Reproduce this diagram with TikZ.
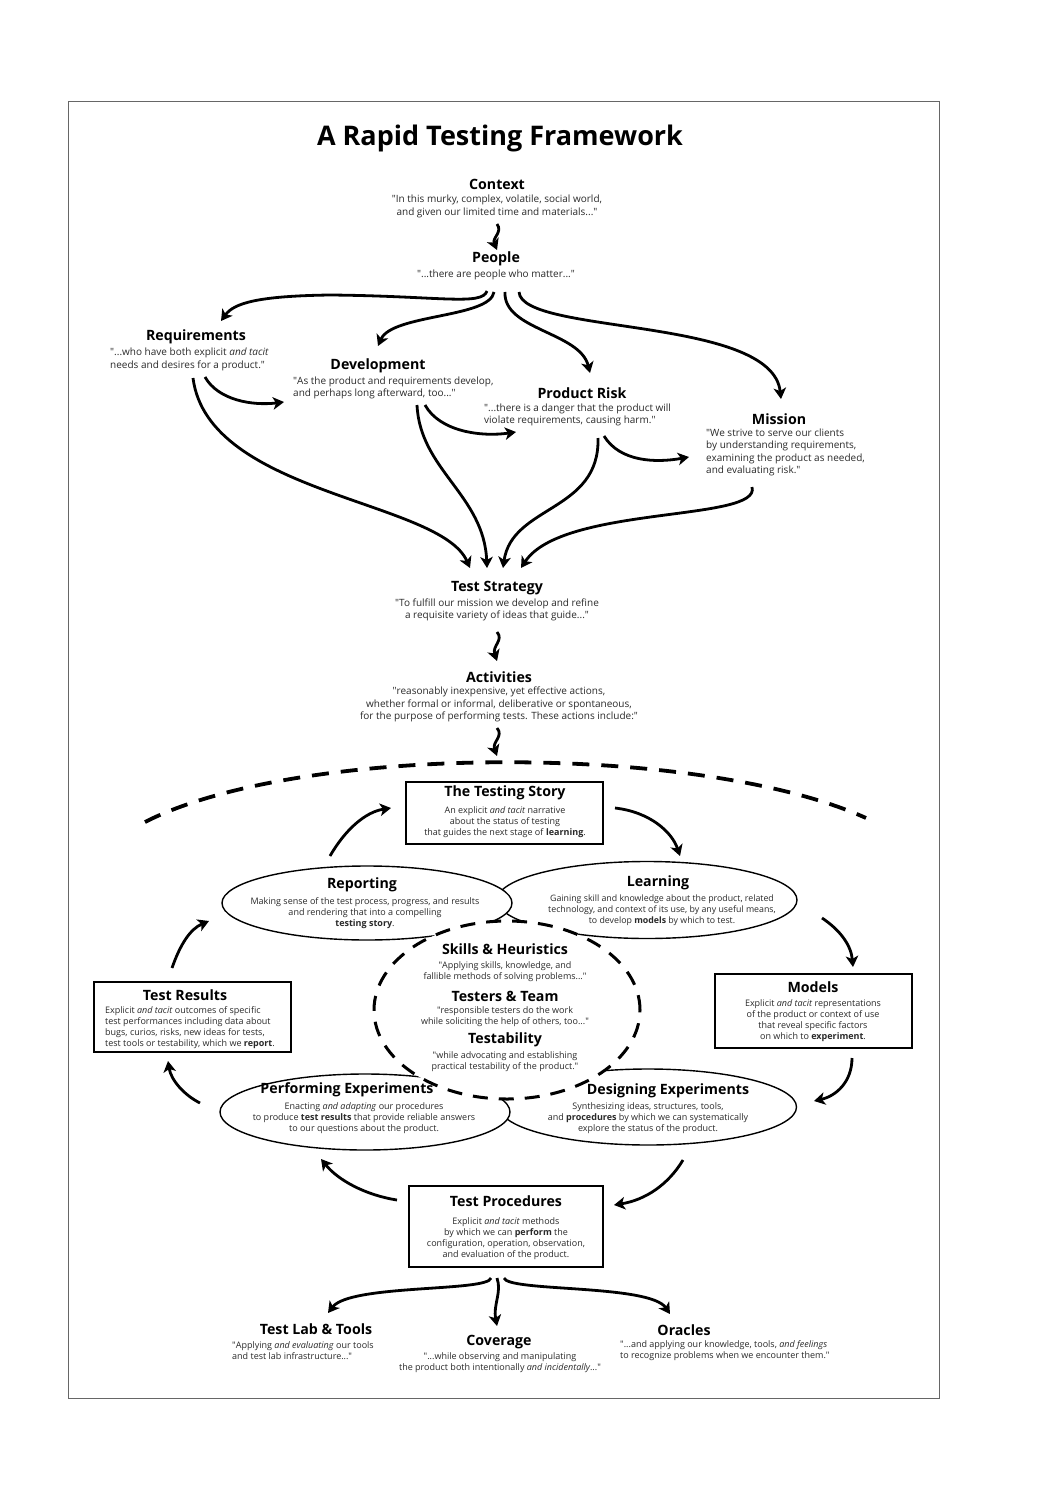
\documentclass[tikz,border=0pt]{standalone}
\usepackage{fontspec}
\setmainfont{Open Sans}
\usetikzlibrary{arrows.meta,shapes.geometric,calc}
\definecolor{txt}{HTML}{2A2A2A}
\definecolor{frm}{HTML}{666666}
\newcommand{\dq}{\textquotedbl}
\begin{document}
\begin{tikzpicture}[x=1pt,y=-1pt,
 hd/.style={font=\fontsize{14.2}{16}\selectfont\bfseries,text=black,inner sep=0pt},
 bhd/.style={font=\fontsize{14.2}{16}\selectfont\bfseries,text=black,inner sep=0pt},
 qt/.style={font=\fontsize{10}{12.5}\selectfont,text=txt,align=center,inner sep=0pt},
 qtl/.style={qt,align=left,anchor=west},
 sm/.style={font=\fontsize{9}{11}\selectfont,text=txt,align=center,inner sep=0pt},
 sml/.style={sm,align=left,anchor=west},
 arr/.style={line width=2.8pt,-{Stealth[length=11pt,width=12.5pt,inset=3pt]}},
 box/.style={draw,line width=1.8pt,fill=white,inner sep=0pt},
 ell/.style={draw,ellipse,line width=1.4pt,fill=white,inner sep=0pt},
 dash ell/.style={draw,ellipse,line width=3pt,dash pattern=on 15pt off 11pt,fill=white,inner sep=0pt},
]
\useasboundingbox (0,0) rectangle (1053,1503);
\fill[white] (0,0) rectangle (1053,1503);
\node[draw=frm,line width=1pt,minimum width=871pt,minimum height=1296pt,inner sep=0pt] (frame) at (503.5,750) {};

\node[font=\fontsize{27}{32}\selectfont\bfseries,inner sep=0pt] (title) at (500,138) {A Rapid Testing Framework};

% upper part
\node[hd] (ctx) at (497,184) {Context};
\node[qt] (ctxq) at (497,206.5) {\dq{}In this murky, complex, volatile, social world,\\and given our limited time and materials...\dq};
\node[hd] (ppl) at (496,259) {People};
\node[qt] (pplq) at (496,275) {\dq{}...there are people who matter...\dq};
\node[hd] (req) at (196,337) {Requirements};
\node[qtl] (reqq) at (110,359.5) {\dq{}...who have both explicit \emph{and tacit}\\needs and desires for a product.\dq};
\node[hd] (dev) at (378,366) {Development};
\node[qtl] (devq) at (293,388) {\dq{}As the product and requirements develop,\\and perhaps long afterward, too...\dq};
\node[hd] (pr) at (582,393) {Product Risk};
\node[qtl] (prq) at (484,415) {\dq{}...there is a danger that the product will\\violate requirements, causing harm.\dq};
\node[hd] (mis) at (779,419) {Mission};
\node[qtl] (misq) at (706,452.5) {\dq{}We strive to serve our clients\\by understanding requirements,\\examining the product as needed,\\and evaluating risk.\dq};
\node[hd] (ts) at (497,588) {Test Strategy};
\node[qt] (tsq) at (497,610) {\dq{}To fulfill our mission we develop and refine\\a requisite variety of ideas that guide...\dq};
\node[hd] (act) at (499,677) {Activities};
\node[qt] (actq) at (499,704.5) {\dq{}reasonably inexpensive, yet effective actions,\\whether formal or informal, deliberative or spontaneous,\\for the purpose of performing tests. These actions include:\dq};

% arrow end points
\coordinate (c1s) at (497,224);  \coordinate (c1e) at (497,250);
\coordinate (c2s) at (487,291);  \coordinate (c2e) at (221,321);
\coordinate (c3s) at (494,292);  \coordinate (c3e) at (378,346);
\coordinate (c4s) at (505,292);  \coordinate (c4e) at (590,373);
\coordinate (c5s) at (519,292);  \coordinate (c5e) at (781,399);
\coordinate (c6s) at (205,377);  \coordinate (c6e) at (284,402);
\coordinate (c7s) at (193,378);  \coordinate (c7e) at (470,568);
\coordinate (c8s) at (425,405);  \coordinate (c8e) at (516,432);
\coordinate (c9s) at (417,405);  \coordinate (c9e) at (487,568);
\coordinate (c10s) at (604,436); \coordinate (c10e) at (689,457);
\coordinate (c11s) at (598,438); \coordinate (c11e) at (503,568);
\coordinate (c12s) at (752,487); \coordinate (c12e) at (521,568);
\coordinate (c13s) at (497,632); \coordinate (c13e) at (497,661);
\coordinate (c14s) at (497,728); \coordinate (arcmid) at (497,756);

% arrows upper
\draw[arr] (c1s) .. controls (503,232) and (492,238) .. (c1e);
\draw[arr] (c2s) .. controls (482,306) and (440,296) .. (330,295) .. controls (258,296) and (234,303) .. (c2e);
\draw[arr] (c3s) .. controls (490,318) and (392,314) .. (c3e);
\draw[arr] (c4s) .. controls (503,330) and (580,332) .. (c4e);
\draw[arr] (c5s) .. controls (522,335) and (772,316) .. (c5e);
\draw[arr] (c6s) .. controls (218,400) and (252,406) .. (c6e);
\draw[arr] (c7s) .. controls (208,495) and (440,500) .. (c7e);
\draw[arr] (c8s) .. controls (440,432) and (482,437) .. (c8e);
\draw[arr] (c9s) .. controls (420,470) and (484,495) .. (c9e);
\draw[arr] (c10s) .. controls (620,462) and (656,463) .. (c10e);
\draw[arr] (c11s) .. controls (600,512) and (512,505) .. (c11e);
\draw[arr] (c12s) .. controls (762,522) and (562,505) .. (c12e);
\draw[arr] (c13s) .. controls (504,640) and (492,646) .. (c13e);
\draw[arr] (c14s) .. controls (504,736) and (492,742) .. (arcmid);

% dashed arc
\coordinate (arcL) at (145,822);
\coordinate (arcR) at (866,818);
\draw[line width=3.8pt,dash pattern=on 17pt off 12pt] (arcL) .. controls (300,743) and (700,743) .. (arcR);

% cycle shapes
\node[ell,minimum width=300pt,minimum height=77pt] (lrn) at (647,900) {};
\node[ell,minimum width=290pt,minimum height=74pt] (rep) at (367,903) {};
\node[ell,minimum width=297pt,minimum height=76pt] (des) at (648,1107) {};
\node[ell,minimum width=290pt,minimum height=76pt] (per) at (365,1112) {};
\node[dash ell,minimum width=266pt,minimum height=178pt] (core) at (507,1010) {};

\node[box,minimum width=197pt,minimum height=62pt] (story) at (504.5,813) {};
\node[box,minimum width=197pt,minimum height=70pt] (tr) at (192.5,1017) {};
\node[box,minimum width=197pt,minimum height=74pt] (mod) at (813.5,1011) {};
\node[box,minimum width=194pt,minimum height=81pt] (tp) at (506,1226.5) {};

% cycle texts
\node[bhd] (storyh) at (505,793) {The Testing Story};
\node[sm] (storyq) at (505,822.5) {An explicit \emph{and tacit} narrative\\about the status of testing\\that guides the next stage of \textbf{learning}.};
\node[bhd] (reph) at (362,885) {Reporting};
\node[sm] (repq) at (365,913) {Making sense of the test process, progress, and results\\and rendering that into a compelling\\\textbf{testing story}.};
\node[bhd] (lrnh) at (658,883) {Learning};
\node[sm,font=\fontsize{8.8}{11}\selectfont] (lrnq) at (662,910.5) {Gaining skill and knowledge about the product, related\\technology, and context of its use, by any useful means,\\to develop \textbf{models} by which to test.};
\node[bhd] (trh) at (185,995) {Test Results};
\node[sml] (trq) at (105,1028) {Explicit \emph{and tacit} outcomes of specific\\test performances including data about\\bugs, curios, risks, new ideas for tests,\\test tools or testability, which we \textbf{report}.};
\node[bhd] (modh) at (813,987) {Models};
\node[sm] (modq) at (813,1021) {Explicit \emph{and tacit} representations\\of the product or context of use\\that reveal specific factors\\on which to \textbf{experiment}.};
\node[bhd] (skh) at (505,949) {Skills \& Heuristics};
\node[sm] (skq) at (505,971.5) {\dq{}Applying skills, knowledge, and\\fallible methods of solving problems...\dq};
\node[bhd] (tth) at (505,996) {Testers \& Team};
\node[sm] (ttq) at (505,1017) {\dq{}responsible testers do the work\\while soliciting the help of others, too...\dq};
\node[bhd] (tbh) at (505,1040) {Testability};
\node[sm] (tbq) at (505,1062) {\dq{}while advocating and establishing\\practical testability of the product.\dq};
\node[bhd] (perh) at (347,1090) {Performing Experiments};
\node[sm] (perq) at (364,1118.5) {Enacting \emph{and adapting} our procedures\\to produce \textbf{test results} that provide reliable answers\\to our questions about the product.};
\node[bhd] (desh) at (668,1091) {Designing Experiments};
\node[sm] (desq) at (648,1118.5) {Synthesizing ideas, structures, tools,\\and \textbf{procedures} by which we can systematically\\explore the status of the product.};
\node[bhd] (tph) at (506,1201) {Test Procedures};
\node[sm] (tpq) at (506,1239) {Explicit \emph{and tacit} methods\\by which we can \textbf{perform} the\\configuration, operation, observation,\\and evaluation of the product.};

% cycle arrow points
\coordinate (d1s) at (615,808);  \coordinate (d1e) at (680,856);
\coordinate (d2s) at (330,856);  \coordinate (d2e) at (391,808);
\coordinate (d3s) at (822,918);  \coordinate (d3e) at (853,967);
\coordinate (d4s) at (852,1058); \coordinate (d4e) at (814,1101);
\coordinate (d5s) at (683,1160); \coordinate (d5e) at (614,1205);
\coordinate (d6s) at (397,1200); \coordinate (d6e) at (321,1159);
\coordinate (d7s) at (200,1103); \coordinate (d7e) at (168,1061);
\coordinate (d8s) at (172,968);  \coordinate (d8e) at (209,921);

\draw[arr] (d1s) .. controls (650,812) and (672,832) .. (d1e);
\draw[arr] (d2s) .. controls (345,830) and (365,812) .. (d2e);
\draw[arr] (d3s) .. controls (840,930) and (851,945) .. (d3e);
\draw[arr] (d4s) .. controls (852,1082) and (836,1096) .. (d4e);
\draw[arr] (d5s) .. controls (668,1185) and (645,1200) .. (d5e);
\draw[arr] (d6s) .. controls (365,1195) and (338,1180) .. (d6e);
\draw[arr] (d7s) .. controls (184,1095) and (171,1080) .. (d7e);
\draw[arr] (d8s) .. controls (180,945) and (190,929) .. (d8e);

% bottom
\node[hd] (lab) at (316,1329) {Test Lab \& Tools};
\node[sml] (labq) at (232,1351) {\dq{}Applying \emph{and evaluating} our tools\\and test lab infrastructure...\dq};
\node[hd] (cov) at (499,1342) {Coverage};
\node[sm] (covq) at (500,1363) {\dq{}...while observing and manipulating\\the product both intentionally \emph{and incidentally}...\dq};
\node[hd] (orc) at (684,1330) {Oracles};
\node[sml] (orcq) at (620,1350.5) {\dq{}...and applying our knowledge, tools, \emph{and feelings}\\to recognize problems when we encounter them.\dq};

\coordinate (e1s) at (491,1278); \coordinate (e1e) at (328,1313);
\coordinate (e2s) at (497,1278); \coordinate (e2e) at (497,1326);
\coordinate (e3s) at (504,1278); \coordinate (e3e) at (670,1314);
\draw[arr] (e1s) .. controls (488,1292) and (350,1284) .. (e1e);
\draw[arr] (e2s) .. controls (502,1292) and (493,1305) .. (e2e);
\draw[arr] (e3s) .. controls (508,1292) and (650,1284) .. (e3e);
\end{tikzpicture}
\end{document}
